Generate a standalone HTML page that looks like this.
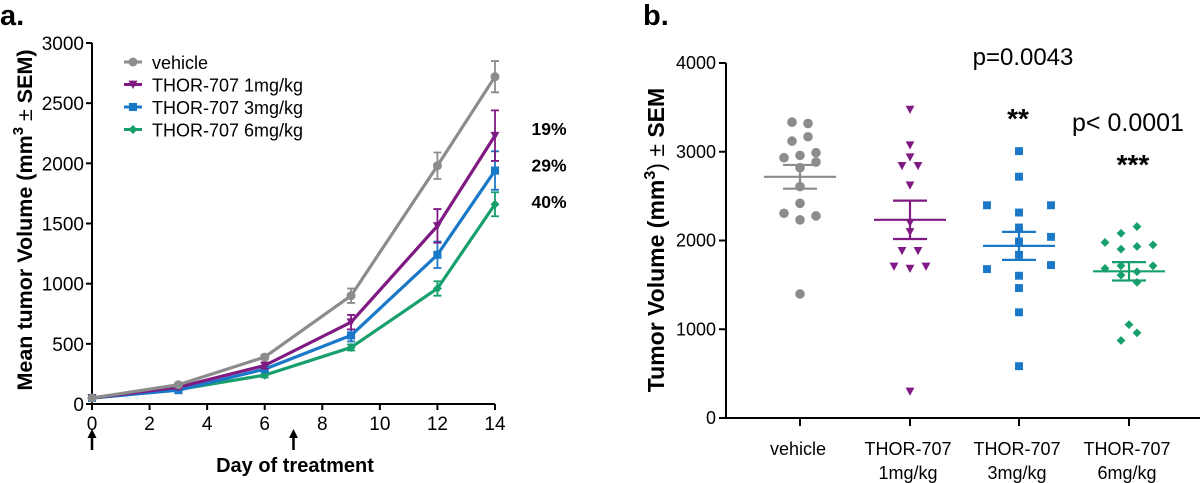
<!DOCTYPE html>
<html><head><meta charset="utf-8">
<style>
html,body{margin:0;padding:0;background:#fff;}
svg{display:block;font-family:"Liberation Sans",Arial,sans-serif;}
</style></head>
<body>
<svg id="fig" width="1200" height="483" viewBox="0 0 1200 483" xmlns="http://www.w3.org/2000/svg">
<g id="ga"></g>
<g id="gb"></g>
</svg>
<script>
// ---------- Panel A data ----------
const daysA = [0, 3, 6, 9, 12, 14];
const xTicksA = [0, 2, 4, 6, 8, 10, 12, 14];
const yTicksA = [0, 500, 1000, 1500, 2000, 2500, 3000];
const seriesNames = ["vehicle", "THOR-707 1mg/kg", "THOR-707 3mg/kg", "THOR-707 6mg/kg"];
const seriesColors = ["#8c8c8c", "#7f1a83", "#1a78c8", "#18a06c"];
const vehicleMean = [50, 160, 390, 900, 1980, 2720];
const vehicleErr = [10, 20, 20, 60, 110, 130];
const mg1Mean = [50, 140, 320, 680, 1480, 2230];
const mg1Err = [10, 15, 25, 60, 140, 210];
const mg3Mean = [50, 115, 290, 570, 1240, 1940];
const mg3Err = [10, 12, 25, 50, 110, 160];
const mg6Mean = [50, 120, 240, 470, 960, 1660];
const mg6Err = [10, 12, 20, 25, 60, 100];
const pctLabels = ["19%", "29%", "40%"];
const arrowDays = [0, 7];

// ---------- Panel B data ----------
const groupsB = ["vehicle", "THOR-707|1mg/kg", "THOR-707|3mg/kg", "THOR-707|6mg/kg"];
const yTicksB = [0, 1000, 2000, 3000, 4000];
const vehicleVals = [3333, 3318, 3120, 3169, 2933, 2959, 2989, 2884, 2820, 2607, 2419, 2307, 2277, 2232, 1397];
const vehicleSlot = [-1, 1, -1, 1, -2, 0, 2, 2, 0, 0, 0, -2, 2, 0, 0];
const mg1Vals = [3476, 3075, 2940, 2843, 2843, 2622, 2202, 2097, 1884, 1884, 1708, 1685, 1708, 300];
const mg1Slot = [0, 0, 0, -1, 1, 0, 0, 0, -1, 1, -2, 0, 2, 0];
const mg3Vals = [3007, 2719, 2397, 2397, 2315, 2146, 2041, 1989, 1839, 1678, 1723, 1603, 1464, 1191, 584];
const mg3Slot = [0, 0, -2, 2, 0, 0, 2, 0, 0, -2, 2, 0, 0, 0, 0];
const mg6Vals = [2157, 2082, 1978, 1903, 1933, 1951, 1685, 1715, 1648, 1715, 1610, 1528, 1052, 959, 873];
const mg6Slot = [1, -1, -3, -1, 1, 3, -3, -1, 1, 3, -1, 1, 0, 1, -1];

const NS = "http://www.w3.org/2000/svg";
function mk(parent, tag, attrs, text) {
  const e = document.createElementNS(NS, tag);
  for (const k in attrs) e.setAttribute(k, attrs[k]);
  if (text !== undefined) e.textContent = text;
  parent.appendChild(e);
  return e;
}
function marker(g, shape, cx, cy, r, color) {
  let e;
  if (shape === 0) e = mk(g, "circle", {cx: cx, cy: cy, r: r, fill: color});
  else if (shape === 1) e = mk(g, "polygon", {points: `${cx-r},${cy-r*0.85} ${cx+r},${cy-r*0.85} ${cx},${cy+r}`, fill: color});
  else if (shape === 2) e = mk(g, "rect", {x: cx-r*0.9, y: cy-r*0.9, width: r*1.8, height: r*1.8, fill: color});
  else e = mk(g, "polygon", {points: `${cx},${cy-r} ${cx+r},${cy} ${cx},${cy+r} ${cx-r},${cy}`, fill: color});
  return e;
}

// ---------- Panel A ----------
(function(){
  const g = document.getElementById("ga");
  const X0 = 92, X1 = 495, Y0 = 404, Y1 = 43;
  const xs = d => X0 + (d / 14) * (X1 - X0);
  const ys = v => Y0 - (v / 3000) * (Y0 - Y1);
  let t = mk(g, "text", {x: 0, y: 25, "font-size": 29, "font-weight": "bold"}, "a.");
  
  
  let ax = mk(g, "path", {d: `M${X0},${Y1} V${Y0} H${X1}`, stroke: "#000", "stroke-width": 2, fill: "none"});
  
  
  yTicksA.forEach(v => {
    const y = ys(v);
    mk(g, "line", {x1: X0-6, x2: X0, y1: y, y2: y, stroke: "#000", "stroke-width": 2});
    const l = mk(g, "text", {x: X0-8, y: y+7, "font-size": 19, "text-anchor": "end"}, String(v));
    
    
  });
  xTicksA.forEach(d => {
    const x = xs(d);
    mk(g, "line", {x1: x, x2: x, y1: Y0, y2: Y0+6, stroke: "#000", "stroke-width": 2});
    const l = mk(g, "text", {x: x, y: 430, "font-size": 19, "text-anchor": "middle"}, String(d));
    
    
  });
  arrowDays.forEach(d => {
    const x = xs(d);
    const a = mk(g, "g", {});
    
    
    mk(a, "line", {x1: x, x2: x, y1: 436, y2: 450, stroke: "#000", "stroke-width": 2.5});
    mk(a, "polygon", {points: `${x-4.5},${438} ${x+4.5},${438} ${x},${429}`, fill: "#000"});
  });
  t = mk(g, "text", {x: 295, y: 472, "font-size": 20, "font-weight": "bold", "text-anchor": "middle"}, "Day of treatment");
  
  
  t = mk(g, "text", {x: 0, y: 0, "font-size": 21.5, "font-weight": "bold", "text-anchor": "middle", transform: "translate(32,220) rotate(-90)"});
  
  
  t.innerHTML = 'Mean tumor Volume (mm<tspan dy="-9" font-size="15">3</tspan><tspan dy="9" font-weight="normal"> ± </tspan>SEM)';
  const means = [vehicleMean, mg1Mean, mg3Mean, mg6Mean];
  const errs = [vehicleErr, mg1Err, mg3Err, mg6Err];
  const order = [3, 2, 1, 0];
  order.forEach(i => {
    const s = mk(g, "g", {});
    
    
    const c = seriesColors[i];
    const pts = daysA.map((d, k) => `${xs(d)},${ys(means[i][k])}`).join(" ");
    mk(s, "polyline", {points: pts, fill: "none", stroke: c, "stroke-width": 3.2, "stroke-linejoin": "round"});
    daysA.forEach((d, k) => {
      const x = xs(d), m = means[i][k], e = errs[i][k];
      mk(s, "path", {d: `M${x},${ys(m-e)} V${ys(m+e)} M${x-4},${ys(m-e)} H${x+4} M${x-4},${ys(m+e)} H${x+4}`, stroke: c, "stroke-width": 1.8, fill: "none"});
      const mkr = marker(s, i, x, ys(m), 4.5, c);
      
      
    });
  });
  seriesNames.forEach((n, i) => {
    const y = 62 + i * 22.5;
    const lg = mk(g, "g", {});
    
    
    mk(lg, "line", {x1: 124, x2: 142, y1: y, y2: y, stroke: seriesColors[i], "stroke-width": 3});
    marker(lg, i, 133, y, 4.5, seriesColors[i]);
    mk(lg, "text", {x: 152, y: y+7, "font-size": 18}, n);
  });
  pctLabels.forEach((p, i) => {
    const l = mk(g, "text", {x: 549, y: 135 + i * 36.5, "font-size": 17.5, "font-weight": "bold", "text-anchor": "middle"}, p);
    
    
  });
})();

// ---------- Panel B ----------
(function(){
  const g = document.getElementById("gb");
  const X0 = 726, X1 = 1200, Y0 = 418, Y1 = 63;
  const xc = [800, 910, 1019, 1129];
  const ys = v => Y0 - (v / 4000) * (Y0 - Y1);
  let t = mk(g, "text", {x: 643, y: 25, "font-size": 29, "font-weight": "bold"}, "b.");
  
  
  let ax = mk(g, "path", {d: `M${X0},${Y1} V${Y0} H${X1}`, stroke: "#000", "stroke-width": 2, fill: "none"});
  
  
  yTicksB.forEach(v => {
    const y = ys(v);
    mk(g, "line", {x1: X0-7, x2: X0, y1: y, y2: y, stroke: "#000", "stroke-width": 2});
    const l = mk(g, "text", {x: X0-10, y: y+6, "font-size": 18, "text-anchor": "end"}, String(v));
    
    
  });
  groupsB.forEach((n, i) => {
    const x = xc[i];
    mk(g, "line", {x1: x, x2: x, y1: Y0, y2: Y0+8, stroke: "#000", "stroke-width": 2});
    const parts = n.split("|");
    parts.forEach((p, k) => {
      const l = mk(g, "text", {x: x - 2, y: 455 + k * 24, "font-size": 18, "text-anchor": "middle"}, p);
      
      
    });
  });
  t = mk(g, "text", {x: 0, y: 0, "font-size": 23, "font-weight": "bold", "text-anchor": "middle", transform: "translate(664,240) rotate(-90)"});
  
  
  t.innerHTML = 'Tumor Volume (mm<tspan dy="-9" font-size="16">3</tspan><tspan dy="9" font-weight="normal">) ± </tspan>SEM';
  const vals = [vehicleVals, mg1Vals, mg3Vals, mg6Vals];
  const slots = [vehicleSlot, mg1Slot, mg3Slot, mg6Slot];
  const steps = [8, 8, 16, 8];
  vals.forEach((arr, i) => {
    const c = seriesColors[i];
    const s = mk(g, "g", {});
    
    
    arr.forEach((v, k) => {
      const m = marker(s, i, xc[i] + slots[i][k] * steps[i], ys(v), i === 0 ? 4.8 : 4.4, c);
      
      
    });
    const n = arr.length;
    const mean = arr.reduce((a, b) => a + b, 0) / n;
    const sd = Math.sqrt(arr.reduce((a, b) => a + (b - mean) * (b - mean), 0) / (n - 1));
    const sem = sd / Math.sqrt(n);
    const x = xc[i];
    const ml = mk(s, "path", {d: `M${x-36},${ys(mean)} H${x+36} M${x},${ys(mean-sem)} V${ys(mean+sem)} M${x-17},${ys(mean-sem)} H${x+17} M${x-17},${ys(mean+sem)} H${x+17}`, stroke: c, "stroke-width": 2.2, fill: "none"});
    
    
  });
  const ann = [
    ["p=0.0043", 1023, 65, 24, "normal"],
    ["**", 1018, 128, 28, "bold"],
    ["p< 0.0001", 1128, 131, 25, "normal"],
    ["***", 1133, 174, 28, "bold"]
  ];
  ann.forEach(a => {
    const l = mk(g, "text", {x: a[1], y: a[2], "font-size": a[3], "font-weight": a[4], "text-anchor": "middle"}, a[0]);
    
    
  });
})();
</script>
</body></html>
